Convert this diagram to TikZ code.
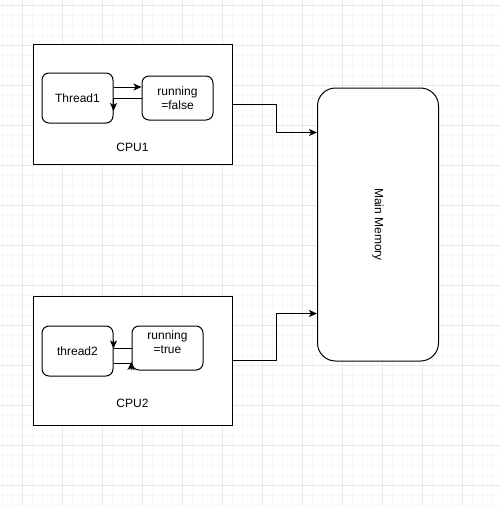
\documentclass[tikz,border=0pt]{standalone}
\usepackage{fontspec}
\setmainfont{Liberation Sans}
\usetikzlibrary{arrows.meta,calc}
\definecolor{gridminor}{HTML}{F7F7F7}
\definecolor{gridmajor}{HTML}{E8E8E8}
\begin{document}
\begin{tikzpicture}[x=1pt,y=-1pt,
  box/.style={draw=black,line width=1pt,fill=white,inner sep=0pt,align=center,font=\fontsize{12}{14}\selectfont},
  rbox/.style={box,rounded corners=7pt},
  txt/.style={inner sep=0pt,align=center,font=\fontsize{12}{14}\selectfont},
  conn/.style={draw=black,line width=1pt},
  arr/.style={conn,-{Stealth[length=8pt,width=7pt,inset=2pt]}}]
\useasboundingbox (0,0) rectangle (501,506);
\fill[white] (0,0) rectangle (501,506);
% grid
\foreach \x in {2,12,...,502} \draw[gridminor,line width=0.8pt] (\x,0) -- (\x,506);
\foreach \y in {5,15,...,505} \draw[gridminor,line width=0.8pt] (0,\y) -- (501,\y);
\foreach \x in {22,62,...,502} \draw[gridmajor,line width=0.8pt] (\x,0) -- (\x,506);
\foreach \y in {5,45,...,505} \draw[gridmajor,line width=0.8pt] (0,\y) -- (501,\y);
% CPU1
\node[box,minimum width=199pt,minimum height=120pt] (cpu1) at (132.5,104) {};
\node[txt] (cpu1lbl) at (132.5,147) {CPU1};
\node[rbox,minimum width=71pt,minimum height=50pt] (t1) at (77.5,98) {Thread1};
\node[rbox,minimum width=71pt,minimum height=44pt] (r1) at (177.5,98) {running\\=false};
% CPU2
\node[box,minimum width=199pt,minimum height=129pt] (cpu2) at (132.5,360.5) {};
\node[txt] (cpu2lbl) at (132.5,403) {CPU2};
\node[rbox,minimum width=71pt,minimum height=50pt] (t2) at (77.5,351) {thread2};
\node[rbox,minimum width=71pt,minimum height=44pt,text depth=0pt] (r2) at (167.5,348) {};
\node[txt] (r2txt) at (167.5,342) {running\\=true};
% Main memory
\node[box,rounded corners=18pt,minimum width=121pt,minimum height=273pt] (mem) at (378,224.5) {};
\node[txt,rotate=-90] (memtxt) at (mem.center) {Main Memory};
% inner connectors CPU1
\draw[arr] ($(t1.east)+(0,-11)$) -- ($(r1.west)+(0,-11)$);
\draw[arr] (r1.west) -- ($(t1.east)+(0,0)$) -- ($(t1.east)+(0,13)$);
% inner connectors CPU2
\draw[conn] (r2.west) -- ($(t2.east)+(0,-3)$);
\draw[arr] ($(t2.east)+(0,-11)$) -- ($(t2.east)+(0,-2.5)$);
\draw[conn] ($(t2.east)+(0,12)$) -- ($(r2.west)+(0,15)$);
\draw[arr] ($(r2.west)+(-0.5,22)$) -- ($(r2.west)+(0,14)$);
% CPU -> memory
\draw[arr] (cpu1.east) -- (276,104) |- ($(mem.north west)+(0,45)$);
\draw[arr] (cpu2.east) -- (276,360.5) |- ($(mem.north west)+(0,226)$);
\end{tikzpicture}
\end{document}
